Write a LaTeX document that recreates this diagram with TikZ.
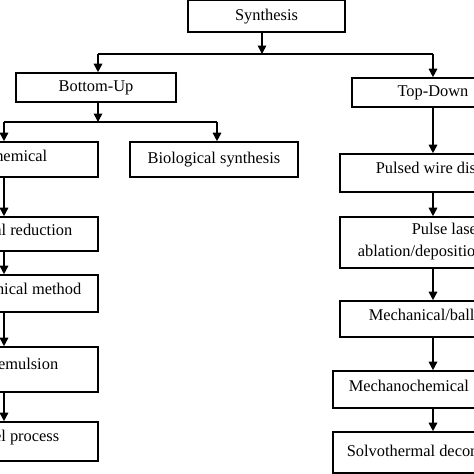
\documentclass[tikz,border=0pt]{standalone}
\usepackage{fontspec}
\setmainfont{Liberation Serif}
\usetikzlibrary{arrows.meta}

\begin{document}
\begin{tikzpicture}[x=1pt, y=-1pt, line width=1.6pt, >={Triangle[length=8.5pt, width=8.5pt]},
                    font=\fontsize{16.4}{19}\selectfont,
                    box/.style={draw, inner sep=0pt},
                    txt/.style={inner sep=0pt}]
                        \useasboundingbox (0, 0) rectangle (474, 474);
                        \clip (0, 0) rectangle (474, 474);

                        % top levels
                        \node[box, minimum width=157pt, minimum height=31.5pt] (0) at (266.5, 16.25) {Synthesis};
                        \node[box, minimum width=160pt, minimum height=29pt] (1) at (96, 87.5) {Bottom-Up};
                        \node[box, minimum width=162pt, minimum height=29pt] (2) at (433, 92.5) {Top-Down};

                        % bottom-up branch
                        \node[box, minimum width=188pt, minimum height=35pt] (3) at (4, 159.5) {};
                        \node[box, minimum width=168pt, minimum height=35pt] (4) at (214, 159.5) {Biological synthesis};
                        \node[box, minimum width=188pt, minimum height=34pt] (5) at (4, 234) {};
                        \node[box, minimum width=188pt, minimum height=37pt] (6) at (4, 293.5) {};
                        \node[box, minimum width=188pt, minimum height=45pt] (7) at (4, 369.5) {};
                        \node[box, minimum width=188pt, minimum height=39pt] (8) at (4, 441.5) {};
                        \node[txt, anchor=mid east] (3t) at (48, 159) {hemical};
                        \node[txt, anchor=mid east] (5t) at (73, 233) {al reduction};
                        \node[txt, anchor=mid east] (6t) at (82, 292) {nical method};
                        \node[txt, anchor=mid east] (7t) at (59, 367) {emulsion};
                        \node[txt, anchor=mid east] (8t) at (60, 439) {el process};

                        % top-down branch
                        \node[box, minimum width=186pt, minimum height=38pt] (9) at (433, 173) {};
                        \node[box, minimum width=186pt, minimum height=51pt] (10) at (433, 242.5) {};
                        \node[box, minimum width=186pt, minimum height=36pt] (11) at (433, 319) {};
                        \node[box, minimum width=200pt, minimum height=37pt] (12) at (433, 389.5) {};
                        \node[box, minimum width=200pt, minimum height=41pt] (13) at (433, 452.5) {};
                        \node[txt, anchor=mid west] (9t) at (375, 171) {Pulsed wire dis};
                        \node[txt, anchor=mid west] (10t) at (411, 232) {Pulse lase};
                        \node[txt, anchor=mid west] (10u) at (357, 254) {ablation/depositio};
                        \node[txt, anchor=mid west] (11t) at (368, 318) {Mechanical/ball};
                        \node[txt, anchor=mid west] (12t) at (348, 389) {Mechanochemical};
                        \node[txt, anchor=mid west] (13t) at (346, 454) {Solvothermal decom};

                        \coordinate (j0) at (262, 54);
                        \coordinate (bl) at (98, 54);
                        \coordinate (br) at (433, 54);
                        \coordinate (j1) at (98, 122);
                        \coordinate (cl) at (4, 122);
                        \coordinate (cr) at (217, 122);

                        \draw (bl) -- (br);
                        \draw (cl) -- (cr);

                        \draw
                        (0.south -| j0) edge[->] (j0)
                        (bl) edge[->] (1.north -| bl)
                        (br) edge[->] (2)
                        (1.south -| j1) edge[->] (j1)
                        (cl) edge[->] (3)
                        (cr) edge[->] (4.north -| cr)
                        (3) edge[->] (5)
                        (5) edge[->] (6)
                        (6) edge[->] (7)
                        (7) edge[->] (8)
                        (2) edge[->] (9)
                        (9) edge[->] (10)
                        (10) edge[->] (11)
                        (11) edge[->] (12)
                        (12) edge[->] (13);
                    \end{tikzpicture}
\end{document}
